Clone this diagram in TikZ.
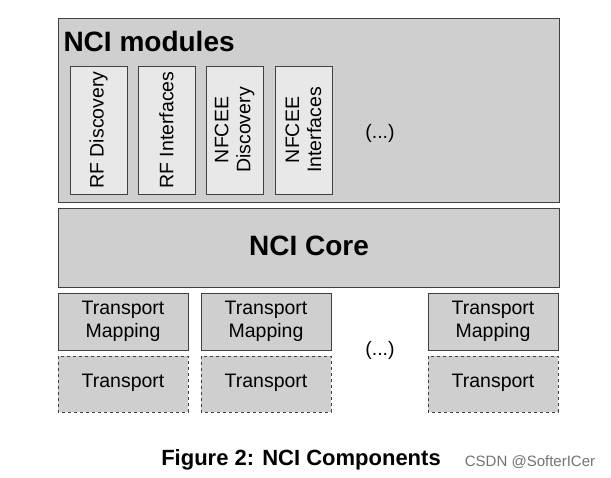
\documentclass[tikz,border=0pt]{standalone}
\usepackage{fontspec}
\setmainfont{Liberation Sans}
\begin{document}
\begin{tikzpicture}[x=1pt,y=-1pt,
  gbox/.style={draw=black!75,fill=black!19,line width=0.8pt},
  ibox/.style={draw=black!75,fill=black!9,line width=0.8pt},
  tbox/.style={draw=black!75,fill=black!19,line width=0.8pt,dashed},
  lbl/.style={font=\fontsize{19.5}{23}\selectfont,align=center}]
\useasboundingbox (0,0) rectangle (611,478);
\fill[white] (0,0) rectangle (611,478);
\draw[gbox] (58,18) rectangle (559,202);
\node[anchor=west,font=\bfseries\fontsize{28}{30}\selectfont] (mt) at (60,41) {NCI modules};
\foreach \x/\t [count=\i] in {70/{RF Discovery},138/{RF Interfaces},206/{NFCEE\\Discovery},275/{NFCEE\\Interfaces}}{
  \draw[ibox] (\x,66) rectangle ++(57,128);
  \node[rotate=90,align=center,font=\fontsize{19.5}{22}\selectfont] (m\i) at (\x+28.5,130) {\t};
}
\node[lbl] (md) at (380,133) {(...)};
\draw[gbox] (58,208) rectangle (559,287);
\node[font=\bfseries\fontsize{28}{30}\selectfont] (core) at (309,246) {NCI Core};
\foreach \x [count=\i] in {58,201,428}{
  \draw[gbox] (\x,293) rectangle ++(130,57);
  \node[lbl] (tm\i) at (\x+65,321) {Transport\\Mapping};
  \draw[tbox] (\x,356) rectangle ++(130,56);
  \node[lbl] (t\i) at (\x+65,383) {Transport};
}
\node[lbl] (td) at (380,350) {(...)};
\node[font=\bfseries\fontsize{22}{24}\selectfont] (cap) at (301,460) {Figure 2: NCI Components};
\node[font=\fontsize{15}{17}\selectfont,text=black!55] (wm) at (530,462) {CSDN @SofterICer};
\end{tikzpicture}
\end{document}
